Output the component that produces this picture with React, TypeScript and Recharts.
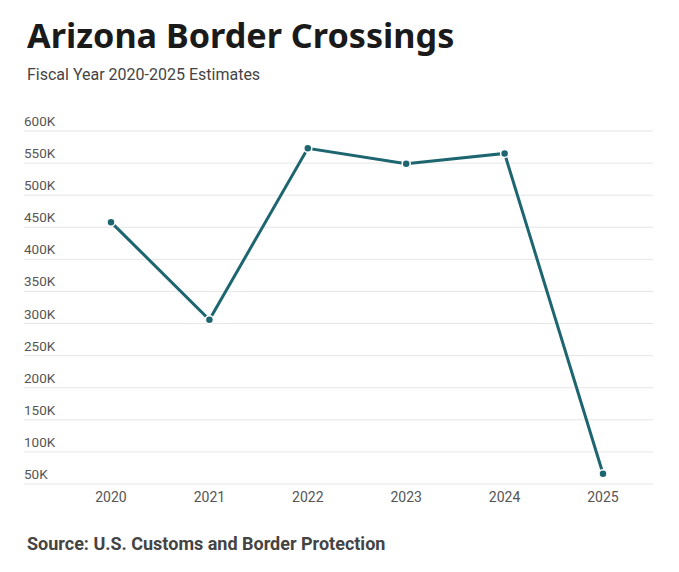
import { CartesianGrid, Line, LineChart, XAxis, YAxis } from "recharts";

const years = ["2020", "2021", "2022", "2023", "2024", "2025"];
const crossings = [458000, 306000, 573000, 549000, 565000, 66000];
const yTicks = [50000, 100000, 150000, 200000, 250000, 300000, 350000, 400000, 450000, 500000, 550000, 600000];

const data = years.map((year, i) => ({ year, crossings: crossings[i] }));

const LINE_COLOR = "#1d6670";

function YTick(props: any) {
  const { y, payload } = props;
  return (
    <text x={24} y={y - 5} textAnchor="start" fontSize={13.5} fill="#555" fontFamily="Roboto">
      {`${payload.value / 1000}K`}
    </text>
  );
}

export default function App() {
  return (
    <div
      style={{
        position: "absolute",
        top: 0,
        left: 0,
        width: 679,
        height: 572,
        background: "#fff",
        fontFamily: "Roboto, sans-serif",
      }}
    >
      <div
        style={{
          position: "absolute",
          left: 27,
          top: 11,
          fontFamily: "'Noto Sans', sans-serif",
          fontWeight: 700,
          fontSize: 34.2,
          color: "#1a1a1a",
          whiteSpace: "nowrap",
        }}
      >
        Arizona Border Crossings
      </div>
      <div style={{ position: "absolute", left: 27, top: 65, fontSize: 16, color: "#444" }}>
        Fiscal Year 2020-2025 Estimates
      </div>
      <div style={{ position: "absolute", top: 0, left: 0 }}>
        <LineChart width={679} height={572} data={data} margin={{ top: 131, right: 26, bottom: 58, left: 23 }}>
          <CartesianGrid vertical={false} stroke="#e6e6e6" />
          <XAxis
            dataKey="year"
            axisLine={false}
            tickLine={false}
            tickSize={0}
            tickMargin={8}
            height={30}
            padding={{ left: 87, right: 50 }}
            tick={{ fontSize: 14, fill: "#555", fontFamily: "Roboto" }}
          />
          <YAxis
            width={1}
            domain={[50000, 600000]}
            ticks={yTicks}
            interval={0}
            axisLine={false}
            tickLine={false}
            tick={(p: any) => <YTick {...p} />}
          />
          <Line
            dataKey="crossings"
            type="linear"
            stroke={LINE_COLOR}
            strokeWidth={3}
            dot={{ r: 4, fill: LINE_COLOR, stroke: "#fff", strokeWidth: 1.5 }}
            isAnimationActive={false}
          />
        </LineChart>
      </div>
      <div
        style={{
          position: "absolute",
          left: 27,
          top: 533,
          fontSize: 18,
          fontWeight: 700,
          color: "#444",
          whiteSpace: "nowrap",
        }}
      >
        Source: U.S. Customs and Border Protection
      </div>
    </div>
  );
}
